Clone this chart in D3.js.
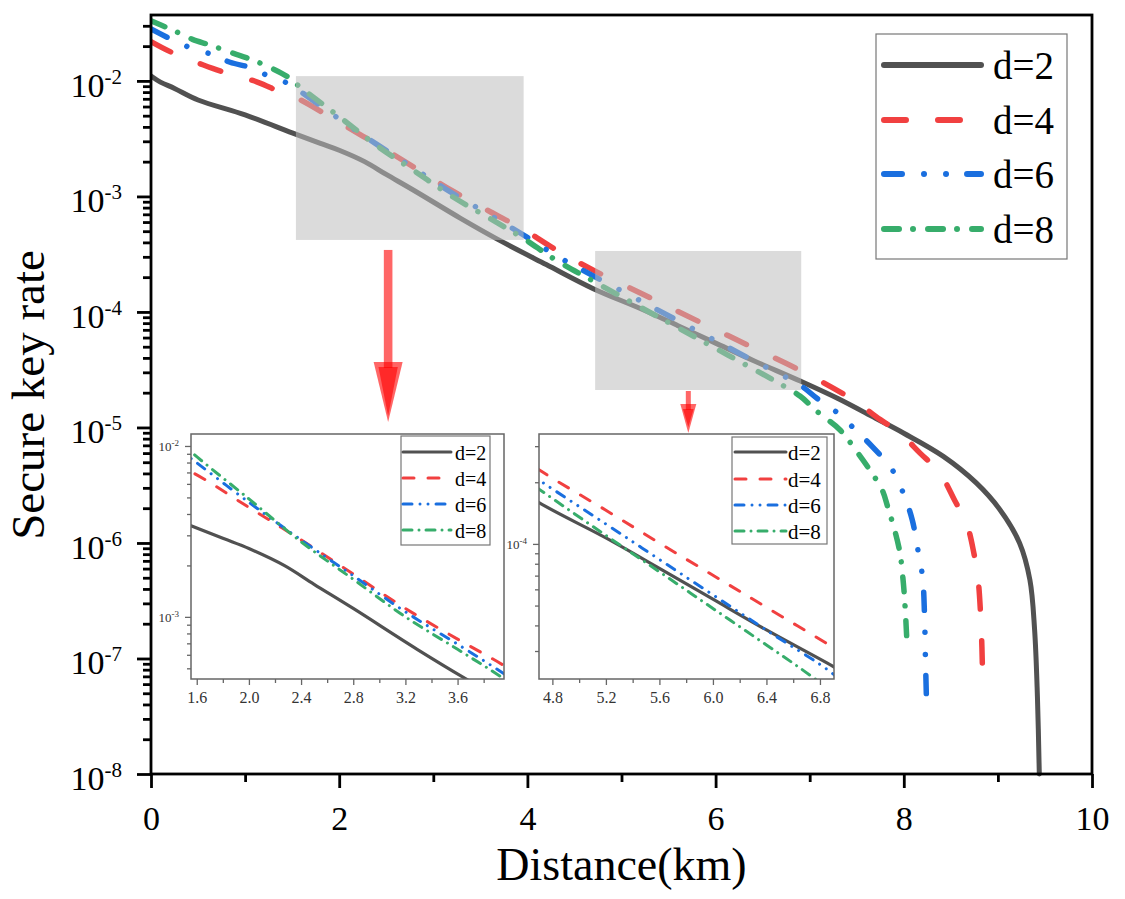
<!DOCTYPE html>
<html><head><meta charset="utf-8">
<script src="https://cdn.jsdelivr.net/npm/d3@7"></script>
<style>
body{margin:0;background:#fff;}
svg{display:block;font-family:"Liberation Serif","Times New Roman",serif;}
text{font-family:"Liberation Serif","Times New Roman",serif;}
</style>
</head><body>
<svg id="c" width="1125" height="899"></svg>
<script>
// ---------------- DATA ----------------
const seriesNames = ["d=2", "d=4", "d=6", "d=8"];
const seriesColors = ["#515151", "#F14040", "#1A6FDF", "#37AD6B"];

const distD2 = [0, 0.1, 0.25, 0.5, 1.0, 1.5, 1.8, 2.0, 2.27, 2.5, 2.8, 3.29, 3.68, 4.2, 4.7, 5.2, 5.6, 6.0, 6.4, 6.9, 7.3, 7.7, 8.0, 8.42, 8.77, 9.02, 9.23, 9.34, 9.39, 9.42, 9.44];
const rateD2 = [1.104e-2, 9.77e-3, 8.61e-3, 6.84e-3, 5.08e-3, 3.55e-3, 2.88e-3, 2.51e-3, 2.00e-3, 1.55e-3, 1.12e-3, 6.46e-4, 4.27e-4, 2.57e-4, 1.59e-4, 1.07e-4, 7.60e-5, 5.37e-5, 3.80e-5, 2.52e-5, 1.78e-5, 1.20e-5, 8.91e-6, 5.62e-6, 3.31e-6, 1.95e-6, 1.00e-6, 4.79e-7, 1.78e-7, 4.68e-8, 1.00e-8];

const distD4 = [0, 0.23, 0.55, 0.8, 1.13, 1.37, 1.554, 2.0, 2.4, 2.8, 3.2, 3.6, 3.966, 4.3, 4.7, 5.2, 5.6, 6.0, 6.4, 6.905, 7.25, 7.5, 7.71, 7.96, 8.17, 8.38, 8.54, 8.67, 8.745, 8.79, 8.815, 8.83, 8.84];
const rateD4 = [2.19e-2, 1.75e-2, 1.38e-2, 1.17e-2, 9.77e-3, 8.04e-3, 7.08e-3, 4.37e-3, 2.82e-3, 1.78e-3, 1.12e-3, 7.41e-4, 5.13e-4, 3.47e-4, 2.30e-4, 1.46e-4, 1.01e-4, 7.03e-5, 4.90e-5, 3.10e-5, 2.19e-5, 1.66e-5, 1.23e-5, 8.91e-6, 6.03e-6, 4.07e-6, 2.34e-6, 1.45e-6, 8.13e-7, 4.79e-7, 2.51e-7, 1.26e-7, 5.37e-8];

const distD6 = [0, 0.23, 0.41, 0.66, 0.84, 1.08, 1.23, 1.48, 1.554, 2.0, 2.4, 2.8, 3.2, 3.6, 3.95, 4.3, 4.7, 5.2, 5.6, 6.0, 6.4, 6.905, 7.08, 7.32, 7.46, 7.67, 7.88, 8.0, 8.09, 8.15, 8.2, 8.22, 8.23, 8.24];
const rateD6 = [2.82e-2, 2.26e-2, 1.95e-2, 1.68e-2, 1.45e-2, 1.29e-2, 1.12e-2, 9.33e-3, 8.47e-3, 4.68e-3, 2.82e-3, 1.74e-3, 1.07e-3, 6.92e-4, 4.68e-4, 3.09e-4, 2.05e-4, 1.25e-4, 8.39e-5, 5.64e-5, 3.79e-5, 2.30e-5, 1.78e-5, 1.29e-5, 1.00e-5, 6.76e-6, 4.27e-6, 2.63e-6, 1.58e-6, 8.71e-7, 5.01e-7, 2.40e-7, 1.00e-7, 4.68e-8];

const distD8 = [0, 0.2, 0.31, 0.44, 0.63, 0.87, 1.05, 1.28, 1.48, 1.554, 2.0, 2.4, 2.8, 3.2, 3.6, 3.95, 4.3, 4.7, 5.2, 5.6, 6.0, 6.4, 6.68, 6.9, 7.09, 7.32, 7.51, 7.64, 7.77, 7.83, 7.91, 7.96, 7.99, 8.01, 8.03];
const rateD8 = [3.31e-2, 2.82e-2, 2.57e-2, 2.29e-2, 2.04e-2, 1.74e-2, 1.55e-2, 1.29e-2, 1.05e-2, 9.27e-3, 4.90e-3, 2.75e-3, 1.66e-3, 1.00e-3, 6.46e-4, 4.37e-4, 2.82e-4, 1.85e-4, 1.10e-4, 7.31e-5, 4.84e-5, 3.21e-5, 2.40e-5, 1.86e-5, 1.35e-5, 9.55e-6, 6.03e-6, 4.27e-6, 2.88e-6, 2.04e-6, 1.23e-6, 8.13e-7, 5.01e-7, 3.16e-7, 1.58e-7];

const xTickValues = [0, 2, 4, 6, 8, 10];
const xMinorTickValues = [1, 3, 5, 7, 9];
const yTickExponents = [-8, -7, -6, -5, -4, -3, -2];

const xDomainMain = [0, 10];
const yDomainMain = [1e-8, 0.0372];

// zoomed regions (distance range, rate range)
const zoom1X = [1.54, 3.96], zoom1Y = [4.2e-4, 1.1e-2];
const zoom2X = [4.72, 6.91], zoom2Y = [2.11e-5, 3.37e-4];

// inset 1
const inset1XDomain = [1.556, 3.956], inset1YDomain = [4.33e-4, 1.175e-2];
const inset1XTicks = [1.6, 2.0, 2.4, 2.8, 3.2, 3.6];
const inset1XMinor = [1.8, 2.2, 2.6, 3.0, 3.4, 3.8];
const inset1YTickExponents = [-3, -2];
// inset 2
const inset2XDomain = [4.70, 6.905], inset2YDomain = [2.19e-5, 3.44e-4];
const inset2XTicks = [4.8, 5.2, 5.6, 6.0, 6.4, 6.8];
const inset2XMinor = [5.0, 5.4, 5.8, 6.2, 6.6];
const inset2YTickExponents = [-4];

// ---------------- DRAW ----------------
const svg = d3.select("#c");
const M = {left: 151, right: 1092, top: 15, bottom: 774};
const x = d3.scaleLinear().domain(xDomainMain).range([M.left, M.right]);
const y = d3.scaleLog().domain(yDomainMain).range([M.bottom, M.top]);

const series = [
  {xs: distD2, ys: rateD2},
  {xs: distD4, ys: rateD4},
  {xs: distD6, ys: rateD6},
  {xs: distD8, ys: rateD8}
];

function isMajor(v) {
  const l = Math.log10(v);
  return Math.abs(l - Math.round(l)) < 1e-6;
}

function drawSeries(g, sx, sy, widths, dashes) {
  series.forEach((s, i) => {
    const pts = s.xs.map((v, j) => [v, s.ys[j]]);
    const line = d3.line().x(d => sx(d[0])).y(d => sy(d[1])).curve(d3.curveCatmullRom.alpha(0.5));
    g.append("path")
      .attr("d", line(pts))
      .attr("fill", "none")
      .attr("stroke", seriesColors[i])
      .attr("stroke-width", widths[i])
      .attr("stroke-dasharray", dashes[i])
      .attr("stroke-linecap", "round")
      .attr("stroke-linejoin", "round");
  });
}

const defs = svg.append("defs");
defs.append("clipPath").attr("id", "mainClip").append("rect")
  .attr("x", M.left).attr("y", M.top - 2).attr("width", M.right - M.left).attr("height", M.bottom - M.top + 6);

const mainLines = svg.append("g").attr("clip-path", "url(#mainClip)");
const mainDashes = [null, "22 32", "18 22 0.01 22 0.01 21", "15 14 0.01 15"];
drawSeries(mainLines, x, y, [5, 5.5, 5.5, 5.5], mainDashes);

// gray zoom boxes
[[zoom1X, zoom1Y], [zoom2X, zoom2Y]].forEach(([zx, zy]) => {
  svg.append("rect")
    .attr("x", x(zx[0])).attr("y", y(zy[1]))
    .attr("width", x(zx[1]) - x(zx[0])).attr("height", y(zy[0]) - y(zy[1]))
    .attr("fill", "rgb(190,190,190)").attr("opacity", 0.55);
});

// arrows
function arrow(cx, y0, yTip, shaftW, headW, headL) {
  const g = svg.append("g").attr("fill", "rgba(255,0,0,0.6)");
  g.append("rect").attr("x", cx - shaftW / 2).attr("y", y0).attr("width", shaftW).attr("height", yTip - headL + 6 - y0);
  g.append("path").attr("d", `M${cx - headW / 2},${yTip - headL}L${cx + headW / 2},${yTip - headL}L${cx},${yTip}Z`);
  g.append("path").attr("d", `M${cx - headW / 3},${yTip - headL + 5}L${cx + headW / 3},${yTip - headL + 5}L${cx},${yTip - 6}Z`);
}
arrow(x(2.52), y(zoom1Y[0]) + 10, 422, 8.6, 29, 60);
arrow(x(5.71), y(zoom2Y[0]) + 1, 433, 5, 16, 29);

// axes
const yTicksAll = y.ticks().filter(v => v >= yDomainMain[0] && v <= yDomainMain[1]);
const yMajor = yTicksAll.filter(isMajor);
const yMinor = yTicksAll.filter(v => !isMajor(v));

const gyMinor = svg.append("g").attr("transform", `translate(${M.left},0)`)
  .call(d3.axisLeft(y).tickValues(yMinor).tickSize(8).tickSizeOuter(0).tickFormat(""));
const gyMajor = svg.append("g").attr("transform", `translate(${M.left},0)`)
  .call(d3.axisLeft(y).tickValues(yMajor).tickSize(14).tickSizeOuter(0).tickFormat(""));
const gxMinor = svg.append("g").attr("transform", `translate(0,${M.bottom})`)
  .call(d3.axisBottom(x).tickValues(xMinorTickValues).tickSize(8).tickSizeOuter(0).tickFormat(""));
const gxMajor = svg.append("g").attr("transform", `translate(0,${M.bottom})`)
  .call(d3.axisBottom(x).tickValues(xTickValues).tickSize(14).tickSizeOuter(0).tickFormat(d => d));
[gyMinor, gyMajor, gxMinor, gxMajor].forEach(g => {
  g.attr("font-family", null).attr("font-size", null);
  g.select(".domain").remove();
  g.selectAll(".tick line").attr("stroke", "#000").attr("stroke-width", 2.8);
});
gxMajor.selectAll(".tick text")
  .attr("y", 56).attr("dy", null)
  .attr("font-size", 34).attr("fill", "#000");

// y labels with superscripts
yTickExponents.forEach(e => {
  const t = svg.append("text")
    .attr("x", M.left - 29).attr("y", y(Math.pow(10, e)) + 16)
    .attr("text-anchor", "end").attr("font-size", 34).attr("fill", "#000");
  t.append("tspan").text("10");
  t.append("tspan").attr("dy", -13).attr("font-size", 21).text(String(e));
});

// frame
svg.append("rect").attr("x", M.left).attr("y", M.top)
  .attr("width", M.right - M.left).attr("height", M.bottom - M.top)
  .attr("fill", "none").attr("stroke", "#000").attr("stroke-width", 2.8);

// axis titles
svg.append("text").attr("x", (M.left + M.right) / 2).attr("y", 880)
  .attr("text-anchor", "middle").attr("font-size", 46).text("Distance(km)");
svg.append("text").attr("transform", "translate(44,395) rotate(-90)")
  .attr("text-anchor", "middle").attr("font-size", 47).text("Secure key rate");

// legend
function legend(g, box, rows, lx0, lx1, tx, fs, lw, dashes, tdy) {
  g.append("rect").attr("x", box[0]).attr("y", box[1]).attr("width", box[2] - box[0]).attr("height", box[3] - box[1])
    .attr("fill", "#fff").attr("stroke", "#777").attr("stroke-width", 1.2);
  seriesNames.forEach((n, i) => {
    g.append("line").attr("x1", lx0).attr("x2", lx1).attr("y1", rows[i]).attr("y2", rows[i])
      .attr("stroke", seriesColors[i]).attr("stroke-width", lw)
      .attr("stroke-dasharray", dashes[i]).attr("stroke-linecap", "round");
    g.append("text").attr("x", tx).attr("y", rows[i] + tdy).attr("font-size", fs).attr("fill", "#000").text(n);
  });
}
legend(svg.append("g"), [876, 34, 1067, 259], [65, 120, 174, 229], 884, 981, 993, 39, 6, mainDashes, 14);

// insets
function inset(cfg) {
  const g = svg.append("g");
  const sx = d3.scaleLinear().domain(cfg.xDomain).range([cfg.x0, cfg.x1]);
  const sy = d3.scaleLog().domain(cfg.yDomain).range([cfg.y1, cfg.y0]);
  g.append("rect").attr("x", cfg.x0).attr("y", cfg.y0).attr("width", cfg.x1 - cfg.x0).attr("height", cfg.y1 - cfg.y0).attr("fill", "#fff");
  defs.append("clipPath").attr("id", cfg.id).append("rect")
    .attr("x", cfg.x0).attr("y", cfg.y0).attr("width", cfg.x1 - cfg.x0).attr("height", cfg.y1 - cfg.y0);
  const lg = g.append("g").attr("clip-path", `url(#${cfg.id})`);
  drawSeries(lg, sx, sy, [3.2, 3, 3, 3], cfg.dashes);

  const yt = sy.ticks().filter(v => v >= cfg.yDomain[0] && v <= cfg.yDomain[1]);
  const ax = [
    g.append("g").attr("transform", `translate(${cfg.x0},0)`)
      .call(d3.axisLeft(sy).tickValues(yt.filter(v => !isMajor(v))).tickSize(4).tickSizeOuter(0).tickFormat("")),
    g.append("g").attr("transform", `translate(${cfg.x0},0)`)
      .call(d3.axisLeft(sy).tickValues(yt.filter(isMajor)).tickSize(6).tickSizeOuter(0).tickFormat("")),
    g.append("g").attr("transform", `translate(0,${cfg.y1})`)
      .call(d3.axisBottom(sx).tickValues(cfg.xMinor).tickSize(4).tickSizeOuter(0).tickFormat("")),
    g.append("g").attr("transform", `translate(0,${cfg.y1})`)
      .call(d3.axisBottom(sx).tickValues(cfg.xTicks).tickSize(6).tickSizeOuter(0).tickFormat(d3.format(".1f")))
  ];
  ax.forEach(a => {
    a.attr("font-family", null).attr("font-size", null);
    a.select(".domain").remove();
    a.selectAll(".tick line").attr("stroke", "#666").attr("stroke-width", 1.3);
  });
  ax[3].selectAll(".tick text").attr("y", 24).attr("dy", null).attr("font-size", 16).attr("fill", "#333");
  cfg.yExps.forEach(e => {
    const t = g.append("text").attr("x", cfg.x0 - 12).attr("y", sy(Math.pow(10, e)) + 5)
      .attr("text-anchor", "end").attr("font-size", 13).attr("fill", "#333");
    t.append("tspan").text("10");
    t.append("tspan").attr("dy", -5).attr("font-size", 9).text(String(e));
  });
  g.append("rect").attr("x", cfg.x0).attr("y", cfg.y0).attr("width", cfg.x1 - cfg.x0).attr("height", cfg.y1 - cfg.y0)
    .attr("fill", "none").attr("stroke", "#666").attr("stroke-width", 1.5);
  legend(g, cfg.legBox, cfg.legRows, cfg.legL0, cfg.legL1, cfg.legTx, cfg.legFs, 3, cfg.dashes, 7.5);
}

const insetDashes = [null, "11 14", "9 8 0.01 8 0.01 8", "9 7 0.01 7"];
inset({
  id: "in1", x0: 191, x1: 504, y0: 434, y1: 679,
  xDomain: inset1XDomain, yDomain: inset1YDomain,
  xTicks: inset1XTicks, xMinor: inset1XMinor, yExps: inset1YTickExponents,
  dashes: insetDashes,
  legBox: [401, 436, 490, 545], legRows: [452, 478, 504, 530], legL0: 403, legL1: 451, legTx: 455, legFs: 20
});
inset({
  id: "in2", x0: 539, x1: 834, y0: 434, y1: 679,
  xDomain: inset2XDomain, yDomain: inset2YDomain,
  xTicks: inset2XTicks, xMinor: inset2XMinor, yExps: inset2YTickExponents,
  dashes: insetDashes,
  legBox: [732, 437, 827, 544], legRows: [452, 479, 505, 531], legL0: 735, legL1: 786, legTx: 788, legFs: 21
});
</script>
</body></html>
